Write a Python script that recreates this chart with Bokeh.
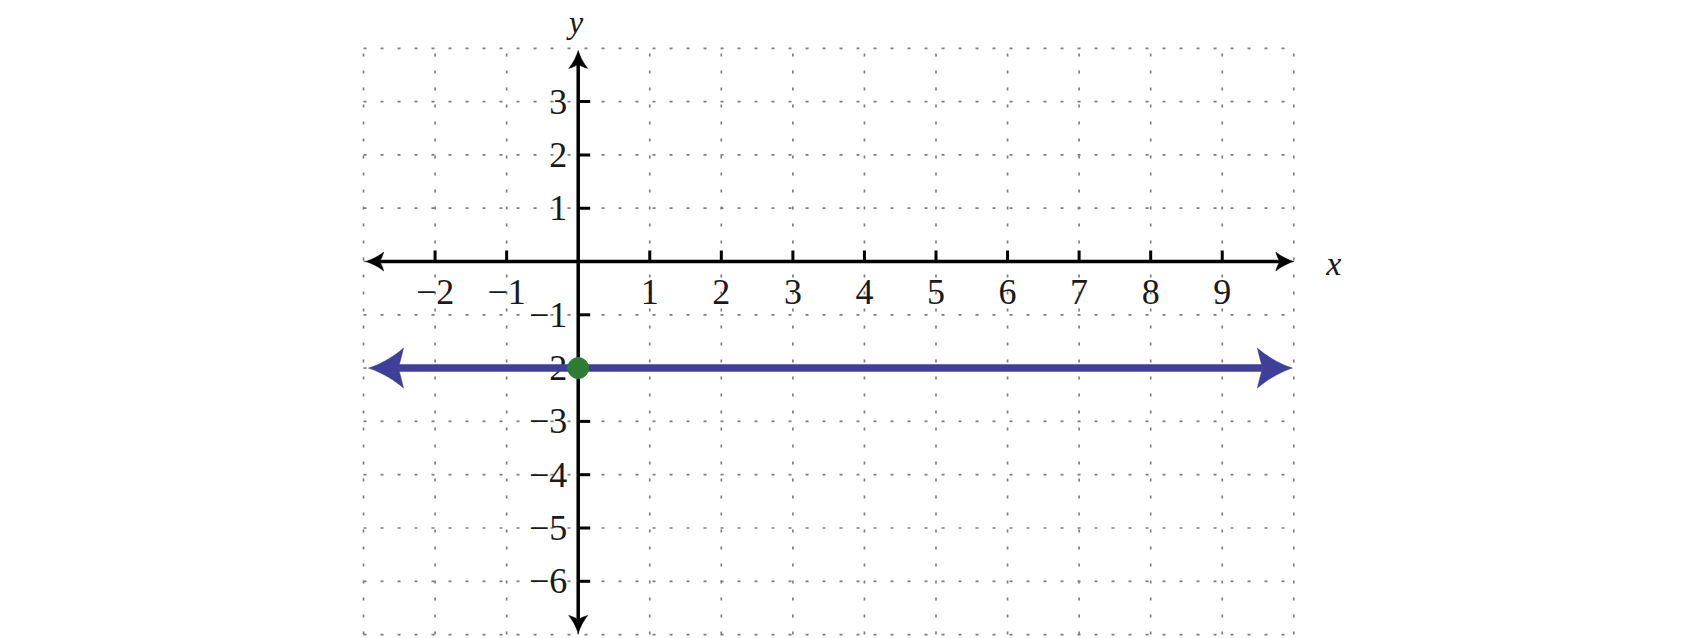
import numpy as np
from bokeh.plotting import figure
from bokeh.models import Range1d
from bokeh.core.properties import value
from bokeh.embed import file_html
from bokeh.resources import INLINE

# ---------------- data ----------------
grid_x = list(range(-3, 11))
grid_y = list(range(-7, 5))
x_ticks = [-2, -1, 1, 2, 3, 4, 5, 6, 7, 8, 9]
x_tick_labels = ["−2", "−1", "1", "2", "3", "4", "5", "6", "7", "8", "9"]
y_ticks = [3, 2, 1, -1, -2, -3, -4, -5, -6]
y_tick_labels = ["3", "2", "1", "−1", "−2", "−3", "−4", "−5", "−6"]
x_axis_ends = [-2.97, 10.0]
y_axis_ends = [-6.98, 3.96]
line_x = [-2.93, 9.98]
line_y = [-2, -2]
point_x = [0]
point_y = [-2]

# ---------------- pixel scale ----------------
W, H = 1684, 638
PX_X = 71.56          # pixels per x unit
PX_Y = 53.3           # pixels per y unit
OX, OY = 577.7, 261   # origin position inside the figure (px)

x_range = Range1d(-OX / PX_X, (W - OX) / PX_X)
y_range = Range1d(-(H - OY) / PX_Y, OY / PX_Y)

p = figure(width=W, height=H, output_backend="svg", toolbar_location=None,
           x_axis_type=None, y_axis_type=None, min_border=0,
           x_range=x_range, y_range=y_range,
           outline_line_color=None, background_fill_color="white",
           border_fill_color="white")

SERIF = value("Liberation Serif")

# grid
p.segment(x0=grid_x, y0=min(grid_y), x1=grid_x, y1=max(grid_y),
          line_color="#7f7f7f", line_width=1.7, line_dash="3 14")
p.segment(x0=min(grid_x), y0=grid_y, x1=max(grid_x), y1=grid_y,
          line_color="#7f7f7f", line_width=1.7, line_dash="3 14")

# tick labels
p.text(x=x_ticks, y=[0] * len(x_ticks), text=x_tick_labels,
       text_align="center", text_baseline="alphabetic", y_offset=30,
       text_font=SERIF, text_font_size="36px", text_color="#1a1a1a")
p.text(x=[0] * len(y_ticks), y=y_ticks, text=y_tick_labels,
       text_align="right", text_baseline="alphabetic", x_offset=-11, y_offset=0,
       text_font=SERIF, text_font_size="36px", text_color="#1a1a1a")


def head(tip_x, tip_y, back, L, Wd, notch):
    """Arrow head polygon (data coords) from tip, back direction in screen px."""
    bx, by = back
    nx, ny = -by, bx
    def pt(a, b):
        return np.array([a * bx + b * nx, a * by + b * ny])
    tip = pt(0, 0)
    b1 = pt(L, Wd / 2)
    b2 = pt(L, -Wd / 2)
    nt = pt(notch * L, 0)
    c1 = pt(0.55 * L, 0.16 * Wd)
    c2 = pt(0.55 * L, -0.16 * Wd)
    d1 = pt(0.92 * L, 0.2 * Wd)
    d2 = pt(0.92 * L, -0.2 * Wd)
    t = np.linspace(0, 1, 10)[:, None]
    def quad(a, c, b):
        return (1 - t) ** 2 * a + 2 * (1 - t) * t * c + t ** 2 * b
    pts = np.vstack([quad(tip, c1, b1), quad(b1, d1, nt), quad(nt, d2, b2), quad(b2, c2, tip)])
    xs = tip_x + pts[:, 0] / PX_X
    ys = tip_y - pts[:, 1] / PX_Y
    return list(xs), list(ys)


# axes lines
AX_L, AX_W, AX_N = 18, 19, 0.76
p.line(x=[x_axis_ends[0] + AX_N * AX_L / PX_X, x_axis_ends[1] - AX_N * AX_L / PX_X],
       y=[0, 0], line_color="black", line_width=3.5)
p.line(x=[0, 0], y=[y_axis_ends[0] + AX_N * AX_L / PX_Y, y_axis_ends[1] - AX_N * AX_L / PX_Y],
       line_color="black", line_width=3.5)

# ticks
TX = 11 / PX_Y
TY = 12 / PX_X
p.segment(x0=x_ticks, y0=0, x1=x_ticks, y1=TX, line_color="black", line_width=3)
p.segment(x0=0, y0=y_ticks, x1=TY, y1=y_ticks, line_color="black", line_width=3)

# axis arrow heads
heads = [head(x_axis_ends[0], 0, (1, 0), AX_L, AX_W, AX_N),
         head(x_axis_ends[1], 0, (-1, 0), AX_L, AX_W, AX_N),
         head(0, y_axis_ends[1], (0, 1), AX_L, AX_W, AX_N),
         head(0, y_axis_ends[0], (0, -1), AX_L, AX_W, AX_N)]
p.patches(xs=[h[0] for h in heads], ys=[h[1] for h in heads],
          fill_color="black", line_color="black", line_width=0.5)

# blue line y = -2 with arrow heads
BL_L, BL_W, BL_N = 35, 40, 0.85
BLUE = "#3f3f99"
p.line(x=[line_x[0] + BL_N * BL_L / PX_X, line_x[1] - BL_N * BL_L / PX_X],
       y=line_y, line_color=BLUE, line_width=7.5)
bheads = [head(line_x[0], line_y[0], (1, 0), BL_L, BL_W, BL_N),
          head(line_x[1], line_y[1], (-1, 0), BL_L, BL_W, BL_N)]
p.patches(xs=[h[0] for h in bheads], ys=[h[1] for h in bheads],
          fill_color=BLUE, line_color=BLUE, line_width=0.5)

# intercept point
p.scatter(x=point_x, y=point_y, size=21, fill_color="#2e7b32", line_color="#2e7b32")

# axis names
p.text(x=[max(grid_x)], y=[0], text=["x"], text_align="center", text_baseline="alphabetic",
       x_offset=40, y_offset=2, text_font=SERIF, text_font_style="italic",
       text_font_size="34px", text_color="#1a1a1a")
p.text(x=[0], y=[max(grid_y)], text=["y"], text_align="center", text_baseline="alphabetic",
       x_offset=-2, y_offset=-26, text_font=SERIF, text_font_style="italic",
       text_font_size="32px", text_color="#1a1a1a")

open("out.html", "w").write(file_html(p, INLINE, "plot"))
